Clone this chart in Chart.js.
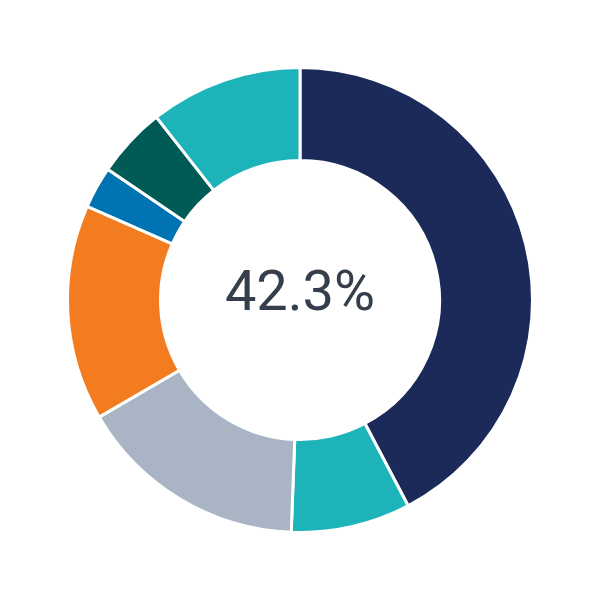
<!DOCTYPE html>
<html lang="en">
<head>
  <meta charset="UTF-8" />
  <title>Share</title>
  <script src="https://cdn.jsdelivr.net/npm/chart.js"></script>
  <style>
    html, body { margin: 0; padding: 0; background: #fff; }
    .wrap { width: 600px; height: 600px; position: relative; }
  </style>
</head>
<body>
<div class="wrap">
  <canvas id="donut"></canvas>
</div>

<script>
  const labels = ["A", "B", "C", "D", "E", "F", "G"];
  const values = [42.3, 8.3, 16.0, 15.0, 2.9, 4.9, 10.6];
  const colors = ['#1c2a5a', '#1cb4b9', '#a9b4c4', '#f47c20', '#0073b2', '#005b57', '#1cb4b9'];
  const centerLabel = "42.3%";

  const centerText = {
    id: 'centerText',
    afterDraw(chart) {
      const { ctx, chartArea } = chart;
      const cx = (chartArea.left + chartArea.right) / 2;
      const cy = (chartArea.top + chartArea.bottom) / 2;
      ctx.save();
      ctx.font = '400 56px Roboto';
      ctx.fillStyle = '#353f4b';
      ctx.textAlign = 'center';
      ctx.textBaseline = 'middle';
      ctx.fillText(centerLabel, cx, cy - 4);
      ctx.restore();
    }
  };

  new Chart(document.getElementById('donut'), {
    type: 'doughnut',
    data: {
      labels: labels,
      datasets: [{
        data: values,
        backgroundColor: colors,
        borderColor: '#ffffff',
        borderWidth: 3
      }]
    },
    options: {
      responsive: true,
      maintainAspectRatio: false,
      animation: false,
      cutout: '60%',
      layout: { padding: 66 },
      plugins: {
        legend: { display: false },
        tooltip: { enabled: false }
      }
    },
    plugins: [centerText]
  });
</script>
</body>
</html>
